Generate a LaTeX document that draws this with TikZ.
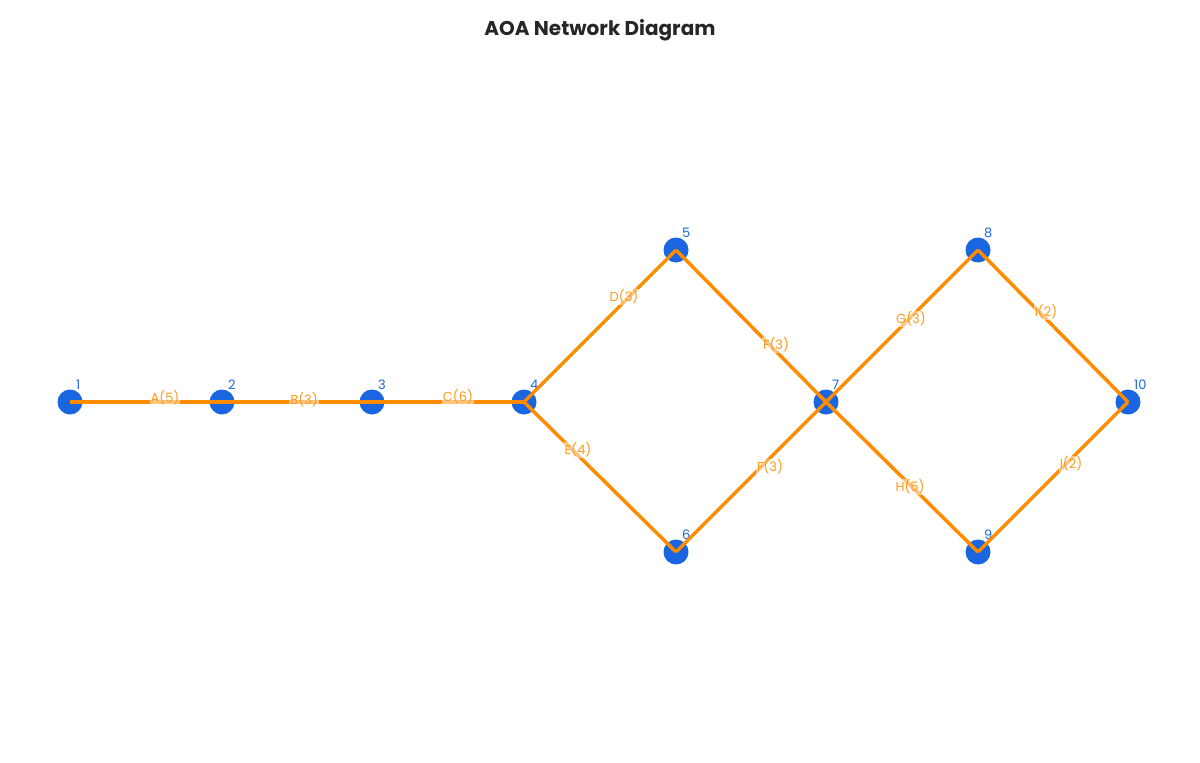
\documentclass[tikz,border=0pt]{standalone}
\usepackage{fontspec}
\setmainfont{Poppins}
\begin{document}
\begin{tikzpicture}[x=1pt,y=-1pt,
 nd/.style={circle,fill=blue!70!cyan!60!black,draw=none,minimum size=25pt,inner sep=0pt},
 nl/.style={text=blue!70!cyan!70!black,font=\fontsize{13}{13}\selectfont},
 ed/.style={draw=orange!90!red!90!yellow,line width=3.5pt},
 el/.style={fill=white,fill opacity=0.5,text opacity=1,text=orange!90!yellow,font=\fontsize{13}{13}\selectfont,inner sep=1pt}]
\colorlet{nb}{blue!70!cyan}
\definecolor{nodeb}{HTML}{1A66E0}
\definecolor{edgeo}{HTML}{FF8C00}
\definecolor{labo}{HTML}{FF9A1A}
\definecolor{nlab}{HTML}{1A66E0}
\tikzset{nd/.append style={fill=nodeb},ed/.append style={draw=edgeo},el/.append style={text=labo},nl/.append style={text=nlab}}
\useasboundingbox (0,0) rectangle (1200,763);
\node[font=\bfseries\fontsize{20}{20}\selectfont,text=black!85] (title) at (600,30) {AOA Network Diagram};
\foreach \n/\x/\y in {1/70/402,2/222/402,3/372/402,4/524/402,5/676/250,6/676/552,7/826/402,8/978/250,9/978/552,10/1128/402}{
 \node[nd] (n\n) at (\x,\y) {};
 \node[nl,anchor=south west,inner sep=0pt] (l\n) at (\x+6,\y-12) {\n};
}
\foreach \a/\b in {1/2,2/3,3/4,4/5,4/6,5/7,6/7,7/8,7/9,8/10,9/10}{
 \draw[ed] (n\a.center) -- (n\b.center);
}
\node[el] (eA) at (165,398) {A(5)};
\node[el] (eB) at (304,400) {B(3)};
\node[el] (eC) at (458,397) {C(6)};
\node[el] (eD) at (624,297) {D(3)};
\node[el] (eE) at (578,450) {E(4)};
\node[el] (eF1) at (776,345) {F(3)};
\node[el] (eF2) at (770,467) {F(3)};
\node[el] (eG) at (911,319) {G(3)};
\node[el] (eH) at (910,487) {H(5)};
\node[el] (eI1) at (1046,312) {I(2)};
\node[el] (eI2) at (1071,464) {I(2)};
\end{tikzpicture}
\end{document}
